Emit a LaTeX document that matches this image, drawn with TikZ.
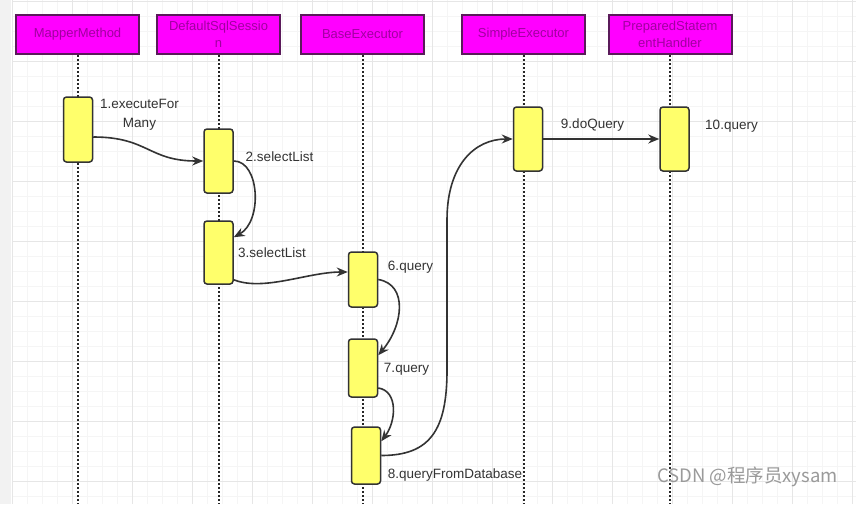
\documentclass[tikz,border=0pt]{standalone}
\usepackage{fontspec}
\setmainfont{Liberation Sans}
\newfontfamily\cjkfont{Noto Sans CJK SC}
\usetikzlibrary{arrows.meta}
\definecolor{hdrfill}{HTML}{FF00FF}
\definecolor{hdrdraw}{HTML}{5A1A5A}
\definecolor{hdrtext}{HTML}{A000A0}
\definecolor{actfill}{HTML}{FFFF6B}
\definecolor{ink}{HTML}{333333}
\definecolor{gridmin}{HTML}{F5F5F5}
\definecolor{gridmaj}{HTML}{E6E6E6}
\definecolor{wmark}{HTML}{9A9A9A}
\begin{document}
\begin{tikzpicture}[x=1pt,y=-1pt,
  header/.style={draw=hdrdraw, line width=2pt, fill=hdrfill, text=hdrtext,
    minimum width=123pt, minimum height=39pt, inner sep=0pt, align=center,
    font=\fontsize{13}{17}\selectfont},
  act/.style={draw=ink, line width=1.5pt, fill=actfill, rounded corners=3pt,
    minimum width=29pt, inner sep=0pt},
  lifeline/.style={draw=black!85, line width=2pt, dash pattern=on 2pt off 2pt},
  msg/.style={draw=ink, line width=1.6pt, -{Stealth[length=11pt,width=9pt]}},
  lbl/.style={text=ink, font=\fontsize{13.5}{19}\selectfont, inner sep=0pt, align=center}]
\useasboundingbox (0,0) rectangle (856,504);
\fill[white] (0,0) rectangle (856,504);
\fill[black!5] (0,0) rectangle (11,504);
% grid
\foreach \x in {12,27,...,856} \draw[gridmin, line width=1pt] (\x,0) -- (\x,504);
\foreach \y in {1,16,...,504} \draw[gridmin, line width=1pt] (12,\y) -- (856,\y);
\foreach \x in {12,72,...,852} \draw[gridmaj, line width=1pt] (\x,0) -- (\x,504);
\foreach \y in {1,61,...,481} \draw[gridmaj, line width=1pt] (12,\y) -- (856,\y);
\coordinate (bottom) at (0,504);
% headers
\node[header] (H1) at (77.5,34.5) {MapperMethod};
\node[header] (H2) at (218.5,34.5) {DefaultSqlSessio\\n};
\node[header] (H3) at (362.5,34.5) {BaseExecutor};
\node[header] (H4) at (523.5,34.5) {SimpleExecutor};
\node[header] (H5) at (670,34.5) {PreparedStatem\\entHandler};
% lifelines
\foreach \h in {H1,H2,H3,H4,H5}
  \draw[lifeline] (\h.south) -- (\h.south |- bottom);
% activations
\node[act, minimum height=65pt] (A1) at (78,129.5) {};
\node[act, minimum height=64pt] (A2) at (218.5,161) {};
\node[act, minimum height=63pt] (A3) at (218.5,252.5) {};
\node[act, minimum height=55pt] (A4) at (363,279.5) {};
\node[act, minimum height=58pt] (A5) at (363,368) {};
\node[act, minimum height=57pt] (A6) at (366,455.5) {};
\node[act, minimum height=64pt] (A7) at (528,139) {};
\node[act, minimum height=64pt] (A8) at (674.5,139) {};
% messages
\draw[msg] ([yshift=-7.5pt]A1.east) .. controls +(55,0) and +(-55,0) .. (A2.west);
\draw[msg] (A2.east) .. controls +(26,0) and +(29,-16) .. ([yshift=-17pt]A3.north east);
\draw[msg] ([yshift=5pt]A3.south east) .. controls +(30,12) and +(-40,0) .. ([yshift=7.5pt]A4.west);
\draw[msg] (A4.east) .. controls +(30,5) and +(25,-30) .. ([yshift=-17pt]A5.north east);
\draw[msg] ([yshift=-20pt]A5.east) .. controls +(20,3) and +(15,-20) .. ([yshift=-15pt]A6.north east);
\draw[msg] (A6.east) .. controls +(49,0) and +(0,60) .. (447,370) -- (447,220)
  .. controls +(0,-55) and +(-38,0) .. (A7.west);
\draw[msg] (A7.east) -- (A8.west);
% labels
\node[lbl] (L1) at (139.5,114.5) {1.executeFor\\Many};
\node[lbl] (L2) at (279.5,157) {2.selectList};
\node[lbl] (L3) at (272,253) {3.selectList};
\node[lbl] (L6) at (410.5,267) {6.query};
\node[lbl] (L7) at (406.5,369) {7.query};
\node[lbl] (L8) at (455,475) {8.queryFromDatabase};
\node[lbl] (L9) at (592.5,125) {9.doQuery};
\node[lbl] (L10) at (731.5,126) {10.query};
% watermark
\node[text=wmark, inner sep=0pt, font=\cjkfont\fontsize{18.5}{22}\selectfont] (WM) at (747.5,477) {CSDN @程序员xysam};
\end{tikzpicture}
\end{document}
